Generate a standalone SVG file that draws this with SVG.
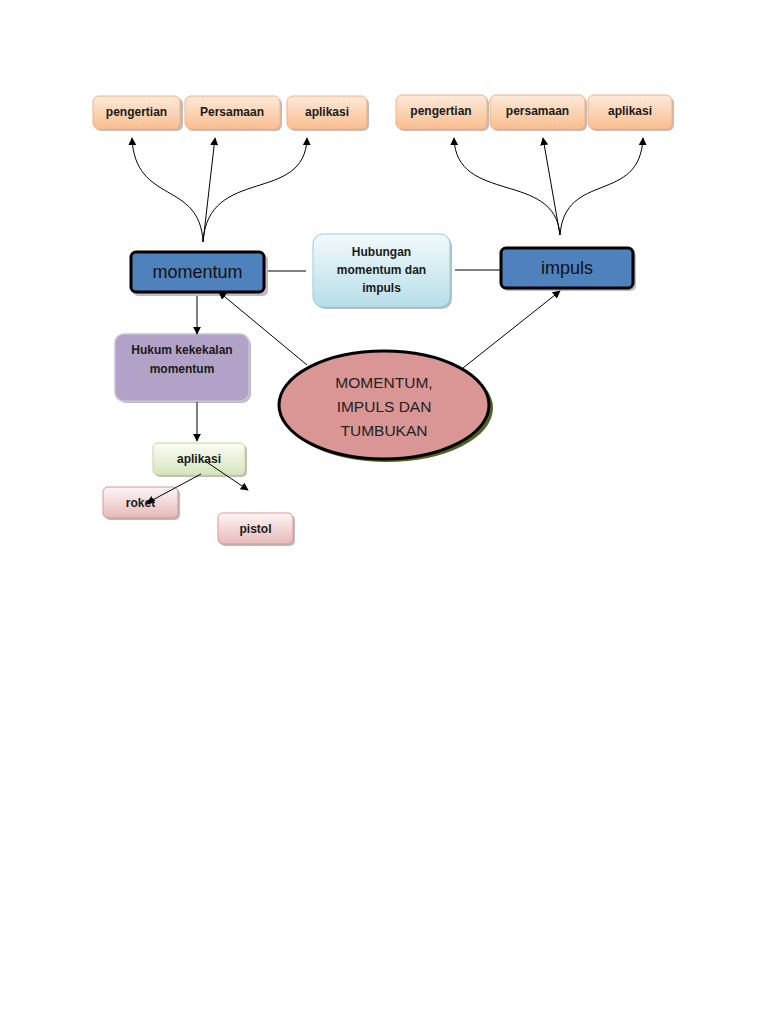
<svg xmlns="http://www.w3.org/2000/svg" width="768" height="1024" viewBox="0 0 768 1024">
<defs>
<linearGradient id="gOr" x1="0" y1="0" x2="0" y2="1"><stop offset="0" stop-color="#FDEADA"/><stop offset="1" stop-color="#F9BE8F"/></linearGradient>
<linearGradient id="gBl" x1="0" y1="0" x2="0" y2="1"><stop offset="0" stop-color="#F2FAFD"/><stop offset="1" stop-color="#B7DEE8"/></linearGradient>
<linearGradient id="gGr" x1="0" y1="0" x2="0" y2="1"><stop offset="0" stop-color="#FBFDF6"/><stop offset="1" stop-color="#D7E4BD"/></linearGradient>
<linearGradient id="gPk" x1="0" y1="0" x2="0" y2="1"><stop offset="0" stop-color="#FEF6F6"/><stop offset="1" stop-color="#E6B9B8"/></linearGradient>
<marker id="ar" viewBox="0 0 10 10" refX="9" refY="5" markerWidth="8" markerHeight="8" markerUnits="userSpaceOnUse" orient="auto"><path d="M0,0 L10,5 L0,10 z" fill="#000"/></marker>
</defs>
<style>
.t{font-family:"Liberation Sans",Arial,sans-serif;font-weight:bold;font-size:12px;fill:#1a1a1a;text-anchor:middle}
.big{font-family:"Liberation Sans",Arial,sans-serif;font-size:18px;fill:#111;text-anchor:middle}
.ell{font-family:"Liberation Sans",Arial,sans-serif;font-size:15.5px;fill:#222;text-anchor:middle}
.sh{fill:#bdbdbd}
.or{fill:url(#gOr);stroke:#F4B183;stroke-width:1}
.bl{fill:url(#gBl);stroke:#93CDDD;stroke-width:1}
.gr{fill:url(#gGr);stroke:#C3D69B;stroke-width:1}
.pk{fill:url(#gPk);stroke:#D99694;stroke-width:1}
.dk{fill:#4F81BD;stroke:#000;stroke-width:3}
.c{fill:none;stroke:#000;stroke-width:1}
.a{fill:none;stroke:#000;stroke-width:1;marker-end:url(#ar)}
</style>
<rect width="768" height="1024" fill="#fff"/>
<g id="n-pengertian1"><rect class="sh" x="95" y="98" width="88" height="33" rx="6"/><rect class="or" x="93" y="96" width="87" height="33" rx="6"/><text class="t" x="136.5" y="116">pengertian</text></g>
<g id="n-persamaan1"><rect class="sh" x="187" y="98" width="95" height="33" rx="6"/><rect class="or" x="185" y="96" width="95" height="33" rx="6"/><text class="t" x="232" y="116">Persamaan</text></g>
<g id="n-aplikasi1"><rect class="sh" x="289" y="98" width="80" height="33" rx="6"/><rect class="or" x="287" y="96" width="80" height="33" rx="6"/><text class="t" x="327" y="116">aplikasi</text></g>
<g id="n-pengertian2"><rect class="sh" x="398" y="97" width="91" height="34" rx="6"/><rect class="or" x="396" y="95" width="91" height="34" rx="6"/><text class="t" x="441" y="115">pengertian</text></g>
<g id="n-persamaan2"><rect class="sh" x="492" y="97" width="95" height="34" rx="6"/><rect class="or" x="490" y="95" width="95" height="34" rx="6"/><text class="t" x="537.5" y="115">persamaan</text></g>
<g id="n-aplikasi2"><rect class="sh" x="590" y="97" width="84" height="34" rx="6"/><rect class="or" x="588" y="95" width="84" height="34" rx="6"/><text class="t" x="630" y="115">aplikasi</text></g>
<g id="n-momentum"><rect class="sh" x="133" y="255" width="135" height="41" rx="5"/><rect class="dk" x="131" y="252" width="133" height="40" rx="5"/><text class="big" x="197.5" y="278">momentum</text></g>
<g id="n-impuls"><rect class="sh" x="503" y="251" width="133" height="40" rx="5"/><rect class="dk" x="501" y="248" width="132" height="40" rx="5"/><text class="big" x="567" y="274">impuls</text></g>
<g id="n-hubungan"><rect class="sh" x="315" y="236" width="137" height="73" rx="10"/><rect class="bl" x="313" y="234" width="137" height="73" rx="10"/><text class="t" x="381.5" y="256">Hubungan</text><text class="t" x="381.5" y="274">momentum dan</text><text class="t" x="381.5" y="292">impuls</text></g>
<g id="n-center"><ellipse cx="387" cy="408" rx="106" ry="54" fill="#4F6228"/><ellipse cx="384" cy="405" rx="105" ry="54" fill="#DA9694" stroke="#000" stroke-width="3"/><text class="ell" x="384" y="388">MOMENTUM,</text><text class="ell" x="384" y="412">IMPULS DAN</text><text class="ell" x="384" y="436">TUMBUKAN</text></g>
<g id="n-hukum"><rect class="sh" x="117" y="336" width="134" height="67" rx="9"/><rect x="115" y="334" width="134" height="67" rx="9" fill="#B2A2C7" stroke="#C9C2D6" stroke-width="1.5"/><text class="t" x="182" y="354">Hukum kekekalan</text><text class="t" x="182" y="373">momentum</text></g>
<g id="n-aplikasi3"><rect class="sh" x="155" y="445" width="92" height="32" rx="5"/><rect class="gr" x="153" y="443" width="92" height="32" rx="5"/><text class="t" x="199" y="463">aplikasi</text></g>
<g id="n-roket"><rect class="sh" x="105" y="489" width="75" height="31" rx="5"/><rect class="pk" x="103" y="487" width="75" height="31" rx="5"/><text class="t" x="140.5" y="507">roket</text></g>
<g id="n-pistol"><rect class="sh" x="220" y="515" width="75" height="31" rx="5"/><rect class="pk" x="218" y="513" width="75" height="31" rx="5"/><text class="t" x="255.5" y="533">pistol</text></g>
<g id="connectors">
<path class="a" d="M203,242 C200,180 135,205 132,138"/>
<path class="a" d="M203,242 L215,138"/>
<path class="a" d="M203,242 C208,165 305,205 307,138"/>
<path class="a" d="M560,235 C555,170 456,205 454,138"/>
<path class="a" d="M560,235 L543,138"/>
<path class="a" d="M560,235 C565,170 640,205 643,138"/>
<line class="c" x1="268" y1="271" x2="306" y2="271"/>
<line class="c" x1="455" y1="270" x2="500" y2="270"/>
<line class="a" x1="307" y1="365" x2="219" y2="292"/>
<line class="a" x1="463" y1="368" x2="560" y2="291"/>
<line class="a" x1="197" y1="296" x2="197" y2="334"/>
<line class="a" x1="197" y1="402" x2="197" y2="441"/>
<line class="a" x1="201" y1="474" x2="147" y2="503"/>
<line class="a" x1="205" y1="461" x2="248" y2="490"/>
</g>
</svg>
